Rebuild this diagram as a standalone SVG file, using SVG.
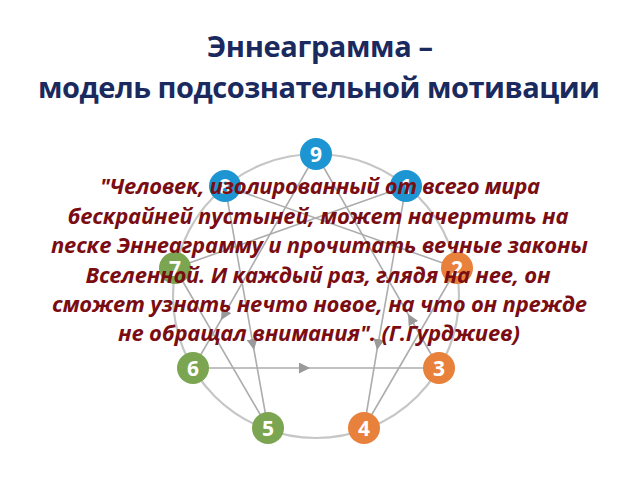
<svg xmlns="http://www.w3.org/2000/svg" width="638" height="479" viewBox="0 0 638 479">
<defs>
<style>
.title{font-family:"Open Sans","Liberation Sans",sans-serif;font-weight:bold;font-size:29px;fill:#1a2a5e;text-anchor:middle}
.quote{font-family:"Open Sans","Noto Sans","Liberation Sans",sans-serif;font-weight:bold;font-style:italic;font-size:22px;fill:#7a0d12;text-anchor:middle}
.ring{fill:none;stroke:#c6c6c6;stroke-width:2.2}
.edge{fill:none;stroke:#adadad;stroke-width:1.6}
.num{font-family:"Open Sans","Liberation Sans",sans-serif;font-weight:bold;font-size:21px;fill:#ffffff;text-anchor:middle}
.blue{fill:#1e95d3}
.orange{fill:#e8813b}
.green{fill:#7ba550}
</style>
<marker id="arr" viewBox="0 0 10 10" refX="10" refY="5" markerWidth="11" markerHeight="11" markerUnits="userSpaceOnUse" orient="auto">
<path d="M0,0 L10,5 L0,10 Z" fill="#9a9a9a"/>
</marker>
</defs>
<rect width="638" height="479" fill="#ffffff"/>
<g id="title">
<text class="title" x="320" y="57" textLength="226">Эннеаграмма –</text>
<text class="title" x="319" y="98" textLength="562">модель подсознательной мотивации</text>
</g>
<ellipse class="ring" cx="316" cy="296" rx="143" ry="142"/>
<g id="connectors">
<path class="edge" d="M193,368 L310,368 L439,368" marker-mid="url(#arr)"/>
<path class="edge" d="M316,154 L221,320 L193,368" marker-mid="url(#arr)"/>
<path class="edge" d="M439,368 L408,314 L316,154" marker-mid="url(#arr)"/>
<path class="edge" d="M225,186 L254,350 L268,428" marker-mid="url(#arr)"/>
<path class="edge" d="M406,186 L377,350 L364,428" marker-mid="url(#arr)"/>
<path class="edge" d="M364,428 L457,268"/>
<path class="edge" d="M457,268 L225,186"/>
<path class="edge" d="M268,428 L175,268"/>
<path class="edge" d="M175,268 L406,186"/>
</g>
<g id="n9"><circle class="blue" cx="316" cy="154" r="16"/><text class="num" x="316" y="161.5">9</text></g>
<g id="n1"><circle class="blue" cx="406" cy="186" r="16"/><text class="num" x="406" y="193.5">1</text></g>
<g id="n8"><circle class="blue" cx="225" cy="186" r="16"/><text class="num" x="225" y="193.5">8</text></g>
<g id="n2"><circle class="orange" cx="457" cy="268" r="16"/><text class="num" x="457" y="275.5">2</text></g>
<g id="n3"><circle class="orange" cx="439" cy="368" r="16"/><text class="num" x="439" y="375.5">3</text></g>
<g id="n4"><circle class="orange" cx="364" cy="428" r="16"/><text class="num" x="364" y="435.5">4</text></g>
<g id="n5"><circle class="green" cx="268" cy="428" r="16"/><text class="num" x="268" y="435.5">5</text></g>
<g id="n6"><circle class="green" cx="193" cy="368" r="16"/><text class="num" x="193" y="375.5">6</text></g>
<g id="n7"><circle class="green" cx="175" cy="268" r="16"/><text class="num" x="175" y="275.5">7</text></g>
<g id="quote">
<text class="quote" x="320" y="194" textLength="440">"Человек, изолированный от всего мира</text>
<text class="quote" x="318" y="223.5" textLength="501">бескрайней пустыней, может начертить на</text>
<text class="quote" x="319.5" y="253" textLength="537">песке Эннеаграмму и прочитать вечные законы</text>
<text class="quote" x="318" y="282.5" textLength="465">Вселенной. И каждый раз, глядя на нее, он</text>
<text class="quote" x="319.5" y="312" textLength="535">сможет узнать нечто новое, на что он прежде</text>
<text class="quote" x="319" y="341" textLength="402">не обращал внимания". (Г.Гурджиев)</text>
</g>
</svg>
